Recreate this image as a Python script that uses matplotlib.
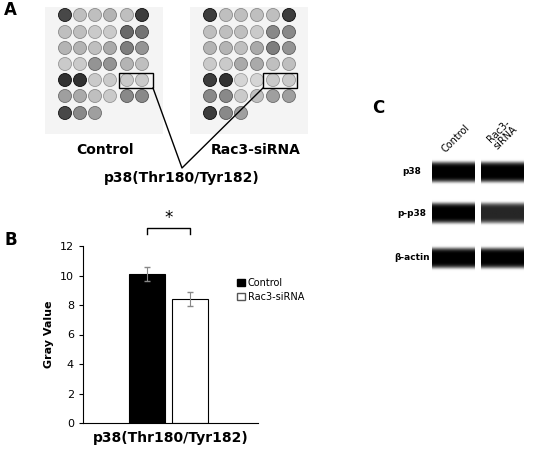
import numpy as np
import matplotlib
matplotlib.use("Agg")
import matplotlib.pyplot as plt
from matplotlib.patches import Circle, Rectangle

groups = ["Control", "Rac3-siRNA"]
values = [10.1, 8.4]
errors = [0.5, 0.45]
yticks = [0, 2, 4, 6, 8, 10, 12]

ctrl_dots = [[.75,.2,.2,.25,.2,.8],[.2,.2,.15,.15,.6,.55],[.25,.25,.2,.3,.5,.4],
             [.15,.15,.4,.4,.25,.2],[.85,.85,.15,.15,.15,.15],[.35,.3,.2,.15,.45,.45],
             [.75,.45,.35]]
rac_dots = [[.8,.2,.2,.2,.2,.8],[.2,.2,.2,.15,.45,.45],[.25,.25,.2,.3,.5,.4],
            [.15,.15,.3,.3,.2,.2],[.8,.85,.1,.1,.15,.15],[.45,.45,.15,.2,.35,.35],
            [.8,.45,.35]]
blot_rows = ["p38", "p-p38", "β-actin"]
blot_int = [[1.0, 1.0], [1.0, 0.85], [1.0, 1.0]]

fig = plt.figure(figsize=(5.39, 4.51), dpi=100)
ov = fig.add_axes([0, 0, 1, 1])
ov.set_xlim(0, 539); ov.set_ylim(451, 0); ov.axis("off")

# Panel A
def membrane(x0, y0, cols, dots):
    ov.add_patch(Rectangle((x0, y0), 118, 127, fc="#f4f4f4", ec="none"))
    rows_y = [15, 32, 48, 64, 80, 96, 113]
    for r, row in enumerate(dots):
        for c, g in enumerate(row):
            f = 0.92 - 0.85 * g
            ov.add_patch(Circle((cols[c], rows_y[r]), 6.5, fc=str(max(0.08, f)),
                                ec=str(max(0.05, f - 0.2)), lw=0.6))
membrane(45, 7, [65, 80, 95, 110, 127, 142], ctrl_dots)
membrane(190, 7, [210, 226, 241, 257, 273, 289], rac_dots)
ov.add_patch(Rectangle((119, 73), 34, 15, fc="none", ec="black", lw=1))
ov.add_patch(Rectangle((263, 73), 34, 15, fc="none", ec="black", lw=1))
ov.plot([153, 182, 263], [88, 168, 88], color="black", lw=1)
ov.text(4, 10, "A", fontsize=12, fontweight="bold", va="center")
ov.text(105, 150, "Control", fontsize=10, fontweight="bold", ha="center", va="center")
ov.text(256, 150, "Rac3-siRNA", fontsize=10, fontweight="bold", ha="center", va="center")
ov.text(182, 178, "p38(Thr180/Tyr182)", fontsize=10, fontweight="bold", ha="center", va="center")

# Panel C
ov.text(372, 108, "C", fontsize=12, fontweight="bold", va="center")
ov.text(456, 138, "Control", fontsize=7, rotation=45, ha="center", va="center")
ov.text(502, 134, "Rac3-\nsiRNA", fontsize=7, rotation=45, ha="center", va="center", linespacing=0.9)
prof = np.exp(-((np.linspace(-1, 1, 40)) / 0.6) ** 6)
for r, (name, ints) in enumerate(zip(blot_rows, blot_int)):
    yc = [172, 213, 258][r]
    ov.text(412, yc, name, fontsize=6.5, fontweight="bold", ha="center", va="center")
    for c, x0 in enumerate([432, 481]):
        img = 1 - ints[c] * prof[:, None] * np.ones((40, 10))
        ov.imshow(img, cmap="gray", vmin=0, vmax=1, extent=(x0, x0 + 43, yc + 17, yc - 17),
                  aspect="auto", interpolation="bilinear")
ov.set_xlim(0, 539); ov.set_ylim(451, 0)

# Panel B
ax = fig.add_axes([83/539, 28/451, 175/539, 177/451])
x = [0, 1]
ax.bar(x, values, width=0.85, color=["black", "white"], edgecolor="black", lw=0.8,
       yerr=errors, error_kw=dict(ecolor="#888888", capsize=2, lw=0.8))
ax.set_xlim(-1.5, 2.6)
ax.set_ylim(0, 12)
ax.set_yticks(yticks)
ax.tick_params(axis="y", length=3, labelsize=8)
ax.set_xticks([])
for s in ["top", "right"]:
    ax.spines[s].set_visible(False)
ax.set_ylabel("Gray Value", fontsize=8, fontweight="bold")
ax.set_xlabel("p38(Thr180/Tyr182)", fontsize=10, fontweight="bold", labelpad=6)
h = [Rectangle((0, 0), 1, 1, fc="black", ec="black"), Rectangle((0, 0), 1, 1, fc="white", ec="#555555")]
ax.legend(h, groups, fontsize=7, frameon=False, loc="upper left", bbox_to_anchor=(0.83, 0.87),
          handlelength=0.8, handleheight=0.8, handletextpad=0.3, labelspacing=0.4)
ax.plot([0, 0, 1, 1], [12.8, 13.2, 13.2, 12.8], color="black", lw=1, clip_on=False)
ax.text(0.5, 13.3, "*", fontsize=12, ha="center", va="bottom")
ov.text(4, 240, "B", fontsize=12, fontweight="bold", va="center")

fig.savefig("out.png", dpi=100)
